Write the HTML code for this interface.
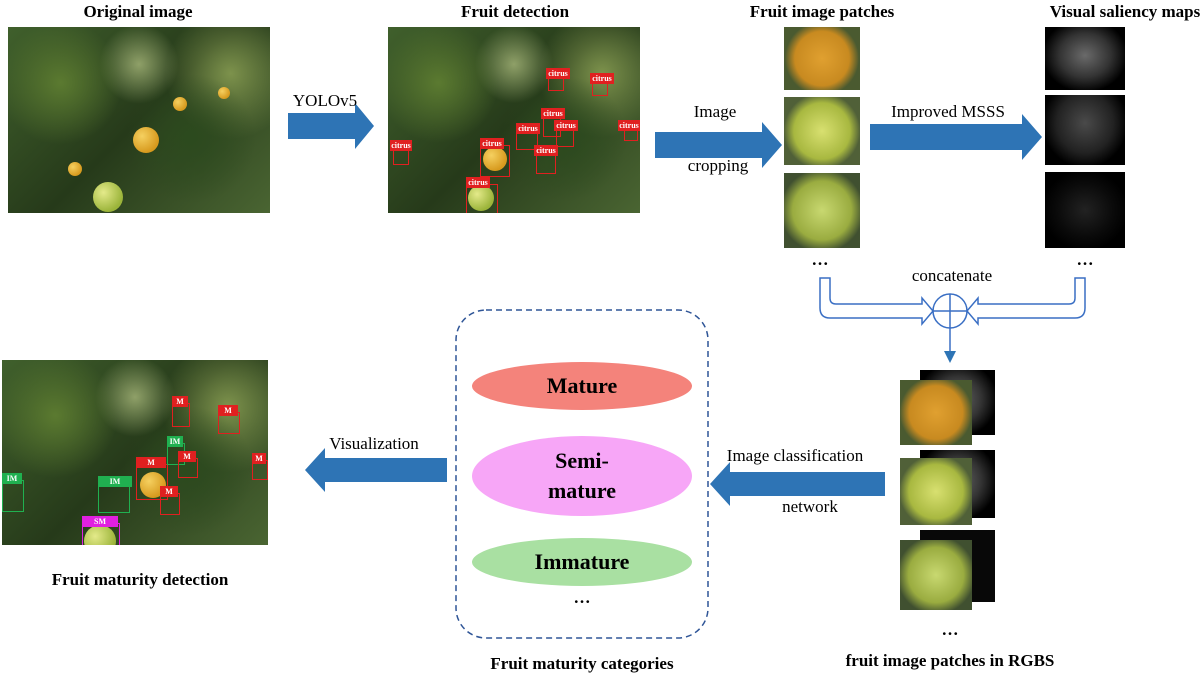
<!DOCTYPE html>
<html><head><meta charset="utf-8"><style>
body{margin:0;background:#fff;width:1200px;height:679px;overflow:hidden;position:relative;font-family:"Liberation Serif",serif;}
.a{position:absolute}
.t{position:absolute;font-weight:bold;font-size:17px;white-space:nowrap;transform:translateX(-50%);color:#000}
.l{position:absolute;font-size:17px;white-space:nowrap;transform:translateX(-50%);color:#000}
.photo{position:absolute;overflow:hidden;background:
radial-gradient(circle at 20% 30%,#5b7a30 0,transparent 25%),
radial-gradient(circle at 70% 60%,#2c4a1e 0,transparent 30%),
radial-gradient(circle at 50% 20%,#8fa068 0,transparent 20%),
radial-gradient(circle at 85% 25%,#7d924c 0,transparent 25%),
linear-gradient(135deg,#40602c,#263a1a 50%,#4a6532);}
.fr{position:absolute;border-radius:50%;background:radial-gradient(circle at 35% 35%,#f5d060,#d79a1e 70%)}
.fg{position:absolute;border-radius:50%;background:radial-gradient(circle at 35% 35%,#e4ea8a,#9bb43a 70%)}
.bx{position:absolute;border:1.5px solid #e02020}
.tag{position:absolute;color:#fff;font-size:8px;font-weight:bold;text-align:center;line-height:11px}
.pt{position:absolute;background:radial-gradient(circle at 50% 50%,#d9b040 0,#c09030 45%,#4a5a30 70%,#6a7a50)}
.sal{position:absolute;background:radial-gradient(ellipse at 50% 45%,#6a6a6a 0,#333 45%,#000 75%)}
</style></head><body>

<div class="t" style="left:138px;top:2px">Original image</div>
<div class="photo" style="left:8px;top:27px;width:262px;height:186px">
<div class="fg" style="left:85px;top:155px;width:30px;height:30px"></div>
<div class="fr" style="left:125px;top:100px;width:26px;height:26px"></div>
<div class="fr" style="left:165px;top:70px;width:14px;height:14px"></div>
<div class="fr" style="left:210px;top:60px;width:12px;height:12px"></div>
<div class="fr" style="left:60px;top:135px;width:14px;height:14px"></div>
</div>

<div class="t" style="left:515px;top:2px">Fruit detection</div>
<div class="photo" style="left:388px;top:27px;width:252px;height:186px">
<div class="fg" style="left:80px;top:158px;width:26px;height:26px"></div>
<div class="fr" style="left:95px;top:120px;width:24px;height:24px"></div>
<div class="bx" style="left:78px;top:157px;width:30px;height:28px"></div><div class="tag" style="left:78px;top:150px;width:24px;background:#e02020">citrus</div>
<div class="bx" style="left:92px;top:118px;width:28px;height:30px"></div><div class="tag" style="left:92px;top:111px;width:24px;background:#e02020">citrus</div>
<div class="bx" style="left:128px;top:103px;width:20px;height:18px"></div><div class="tag" style="left:128px;top:96px;width:24px;background:#e02020">citrus</div>
<div class="bx" style="left:155px;top:88px;width:16px;height:20px"></div><div class="tag" style="left:153px;top:81px;width:24px;background:#e02020">citrus</div>
<div class="bx" style="left:168px;top:100px;width:16px;height:18px"></div><div class="tag" style="left:166px;top:93px;width:24px;background:#e02020">citrus</div>
<div class="bx" style="left:148px;top:125px;width:18px;height:20px"></div><div class="tag" style="left:146px;top:118px;width:24px;background:#e02020">citrus</div>
<div class="bx" style="left:160px;top:48px;width:14px;height:14px"></div><div class="tag" style="left:158px;top:41px;width:24px;background:#e02020">citrus</div>
<div class="bx" style="left:204px;top:53px;width:14px;height:14px"></div><div class="tag" style="left:202px;top:46px;width:24px;background:#e02020">citrus</div>
<div class="bx" style="left:236px;top:100px;width:12px;height:12px"></div><div class="tag" style="left:230px;top:93px;width:22px;background:#e02020">citrus</div>
<div class="bx" style="left:5px;top:120px;width:14px;height:16px"></div><div class="tag" style="left:2px;top:113px;width:22px;background:#e02020">citrus</div>
</div>

<div class="t" style="left:822px;top:2px">Fruit image patches</div>
<div class="pt" style="left:784px;top:27px;width:76px;height:63px;background:radial-gradient(circle,#e0a030 0,#c88a20 55%,#4a5a30 75%)"></div>
<div class="pt" style="left:784px;top:97px;width:76px;height:68px;background:radial-gradient(circle,#d8e070 0,#a8b840 55%,#506038 75%)"></div>
<div class="pt" style="left:784px;top:173px;width:76px;height:75px;background:radial-gradient(circle,#c8d870 0,#9aac40 55%,#405030 78%)"></div>
<div class="l" style="left:820px;top:250px;font-weight:bold">…</div>

<div class="t" style="left:1125px;top:2px">Visual saliency maps</div>
<div class="sal" style="left:1045px;top:27px;width:80px;height:63px"></div>
<div class="sal" style="left:1045px;top:95px;width:80px;height:70px;background:radial-gradient(ellipse at 50% 40%,#4a4a4a 0,#222 50%,#000 75%)"></div>
<div class="sal" style="left:1045px;top:172px;width:80px;height:76px;background:radial-gradient(ellipse at 50% 50%,#222 0,#0a0a0a 50%,#000 75%)"></div>
<div class="l" style="left:1085px;top:250px;font-weight:bold">…</div>

<svg class="a" style="left:0;top:0" width="1200" height="679">
<defs><marker id="m" markerWidth="8" markerHeight="8" refX="6" refY="4" orient="auto"><path d="M0,0 L8,4 L0,8 z" fill="#2e74b5"/></marker></defs>
<g fill="#2e74b5">
<polygon points="288,113 355,113 355,103 374,126 355,149 355,139 288,139"/>
<polygon points="655,132 762,132 762,122 782,145 762,168 762,158 655,158"/>
<polygon points="870,124 1022,124 1022,114 1042,137 1022,160 1022,150 870,150"/>
<polygon points="885,472 730,472 730,462 710,484 730,506 730,496 885,496"/>
<polygon points="447,458 325,458 325,448 305,470 325,492 325,482 447,482"/>
</g>
<g fill="none" stroke="#3a6fc4" stroke-width="1.5">
<path d="M820,278 V308 Q820,318 830,318 H922 V324 L933,311 L922,298 V304 H836 Q830,304 830,298 V278 Z"/>
<path d="M1085,278 V308 Q1085,318 1075,318 H978 V324 L967,311 L978,298 V304 H1069 Q1075,304 1075,298 V278 Z"/>
<circle cx="950" cy="311" r="17"/>
<path d="M933,311 H967 M950,294 V328"/>
<path d="M950,328 V360" marker-end="url(#m)"/>
</g>
<rect x="456" y="310" width="252" height="328" rx="30" fill="none" stroke-dasharray="6,4" stroke="#2f5597" stroke-width="1.5"/>
<ellipse cx="582" cy="386" rx="110" ry="24" fill="#f4837b"/>
<ellipse cx="582" cy="476" rx="110" ry="40" fill="#f7a6f7"/>
<ellipse cx="582" cy="562" rx="110" ry="24" fill="#a9e0a2"/>
</svg>
<div class="l" style="left:325px;top:91px">YOLOv5</div>
<div class="l" style="left:715px;top:102px">Image</div>
<div class="l" style="left:718px;top:156px">cropping</div>
<div class="l" style="left:948px;top:102px">Improved MSSS</div>
<div class="l" style="left:952px;top:266px">concatenate</div>
<div class="l" style="left:795px;top:446px">Image classification</div>
<div class="l" style="left:810px;top:497px">network</div>
<div class="l" style="left:374px;top:434px">Visualization</div>

<div class="t" style="left:582px;top:373px;font-size:22px">Mature</div>
<div class="t" style="left:582px;top:446px;font-size:22px;text-align:center;line-height:30px">Semi-<br>mature</div>
<div class="t" style="left:582px;top:549px;font-size:22px">Immature</div>
<div class="t" style="left:582px;top:588px">…</div>
<div class="t" style="left:582px;top:654px">Fruit maturity categories</div>

<div class="sal" style="left:920px;top:370px;width:75px;height:65px"></div>
<div class="pt" style="left:900px;top:380px;width:72px;height:65px;background:radial-gradient(circle,#e0a030 0,#c88a20 55%,#4a5a30 75%)"></div>
<div class="sal" style="left:920px;top:450px;width:75px;height:68px"></div>
<div class="pt" style="left:900px;top:458px;width:72px;height:67px;background:radial-gradient(circle,#d8e070 0,#a8b840 55%,#506038 75%)"></div>
<div class="sal" style="left:920px;top:530px;width:75px;height:72px;background:#080808"></div>
<div class="pt" style="left:900px;top:540px;width:72px;height:70px;background:radial-gradient(circle,#c8d870 0,#9aac40 55%,#405030 78%)"></div>
<div class="l" style="left:950px;top:620px;font-weight:bold">…</div>
<div class="t" style="left:950px;top:651px">fruit image patches in RGBS</div>

<div class="photo" style="left:2px;top:360px;width:266px;height:185px">
<div class="fg" style="left:82px;top:165px;width:32px;height:32px"></div>
<div class="fr" style="left:138px;top:112px;width:26px;height:26px"></div>
<div class="bx" style="left:80px;top:163px;width:36px;height:22px;border-color:#e020e0"></div><div class="tag" style="left:80px;top:156px;width:36px;background:#e020e0">SM</div>
<div class="bx" style="left:96px;top:123px;width:30px;height:28px;border-color:#20b050"></div><div class="tag" style="left:96px;top:116px;width:34px;background:#20b050">IM</div>
<div class="bx" style="left:0px;top:120px;width:20px;height:30px;border-color:#20b050"></div><div class="tag" style="left:0px;top:113px;width:20px;background:#20b050">IM</div>
<div class="bx" style="left:134px;top:104px;width:30px;height:34px"></div><div class="tag" style="left:134px;top:97px;width:30px;background:#e02020">M</div>
<div class="bx" style="left:158px;top:133px;width:18px;height:20px"></div><div class="tag" style="left:158px;top:126px;width:18px;background:#e02020">M</div>
<div class="bx" style="left:165px;top:83px;width:16px;height:20px;border-color:#20b050"></div><div class="tag" style="left:165px;top:76px;width:16px;background:#20b050">IM</div>
<div class="bx" style="left:176px;top:98px;width:18px;height:18px"></div><div class="tag" style="left:176px;top:91px;width:18px;background:#e02020">M</div>
<div class="bx" style="left:170px;top:43px;width:16px;height:22px"></div><div class="tag" style="left:170px;top:36px;width:16px;background:#e02020">M</div>
<div class="bx" style="left:216px;top:52px;width:20px;height:20px"></div><div class="tag" style="left:216px;top:45px;width:20px;background:#e02020">M</div>
<div class="bx" style="left:250px;top:100px;width:14px;height:18px"></div><div class="tag" style="left:250px;top:93px;width:14px;background:#e02020">M</div>
</div>
<div class="t" style="left:140px;top:570px">Fruit maturity detection</div>
</body></html>
